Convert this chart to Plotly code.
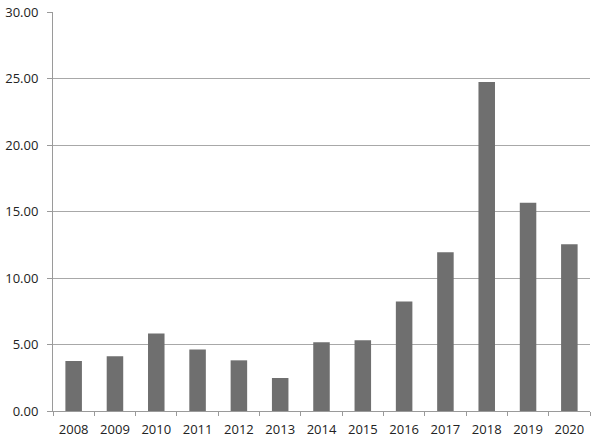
import plotly.graph_objects as go

years = ["2008", "2009", "2010", "2011", "2012", "2013", "2014",
         "2015", "2016", "2017", "2018", "2019", "2020"]
values = [3.76, 4.12, 5.82, 4.62, 3.81, 2.48, 5.17,
          5.32, 8.24, 11.94, 24.73, 15.65, 12.54]
y_ticks = [0, 5, 10, 15, 20, 25, 30]
y_tick_labels = ["0.00", "5.00", "10.00", "15.00", "20.00", "25.00", "30.00"]

fig = go.Figure(go.Bar(x=years, y=values, marker=dict(color="#6f6f6f", line=dict(width=0))))

fig.update_layout(
    width=600, height=442,
    margin=dict(l=53, r=10, t=12, b=31, autoexpand=False),
    paper_bgcolor="white", plot_bgcolor="white",
    bargap=0.6,
    showlegend=False,
    font=dict(family="Open Sans", size=13, color="#222222"),
)
fig.update_xaxes(
    type="category",
    showline=True, linecolor="#9a9a9a", linewidth=1,
    ticks="outside", ticklen=4, tickcolor="#9a9a9a",
    tickson="boundaries",
    showgrid=False,
    automargin=False,
    ticklabelstandoff=6,
)
fig.update_yaxes(
    range=[0, 30], tickvals=y_ticks, ticktext=y_tick_labels,
    showline=True, linecolor="#9a9a9a", linewidth=1,
    ticks="outside", ticklen=5, tickcolor="#9a9a9a",
    showgrid=True, gridcolor="#a8a8a8", gridwidth=1,
    zeroline=False,
    automargin=False,
    ticklabelstandoff=6,
)

fig.write_html("out.html")
